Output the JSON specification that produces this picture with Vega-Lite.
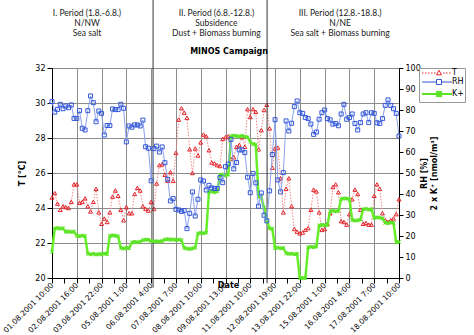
{
"$schema": "https://vega.github.io/schema/vega-lite/v6.json",
"width": 347, "height": 210,
"autosize": {"type": "none"},
"padding": {"left": 52, "top": 68, "right": 75, "bottom": 57},
"background": "white",
"datasets": {
"main": [
{"i":0,"T":24.6,"RH":84.0,"K":12.5},{"i":1,"T":24.85,"RH":79.0,"K":23.6},{"i":2,"T":24.25,"RH":80.3,"K":23.8},{"i":3,"T":23.9,"RH":82.7,"K":23.5},{"i":4,"T":24.1,"RH":80.6,"K":23.7},{"i":5,"T":24.05,"RH":81.9,"K":22.0},{"i":6,"T":24.0,"RH":81.1,"K":22.2},{"i":7,"T":24.35,"RH":82.4,"K":21.9},{"i":8,"T":25.35,"RH":76.0,"K":22.1},{"i":9,"T":25.35,"RH":76.0,"K":20.1},
{"i":10,"T":24.3,"RH":79.7,"K":19.9},{"i":11,"T":24.35,"RH":71.3,"K":20.2},{"i":12,"T":24.55,"RH":70.5,"K":20.0},{"i":13,"T":24.1,"RH":79.7,"K":11.6},{"i":14,"T":23.8,"RH":86.7,"K":11.3},{"i":15,"T":24.35,"RH":83.5,"K":11.5},{"i":16,"T":25.1,"RH":74.4,"K":11.2},{"i":17,"T":23.75,"RH":79.5,"K":11.4},{"i":18,"T":23.1,"RH":78.4,"K":11.3},{"i":19,"T":23.4,"RH":68.1,"K":11.6},
{"i":20,"T":23.2,"RH":72.6,"K":11.4},{"i":21,"T":23.75,"RH":72.6,"K":20.0},{"i":22,"T":24.65,"RH":80.5,"K":20.3},{"i":23,"T":25.0,"RH":80.2,"K":20.1},{"i":24,"T":24.7,"RH":80.2,"K":19.9},{"i":25,"T":23.9,"RH":82.7,"K":14.3},{"i":26,"T":23.3,"RH":80.8,"K":14.0},{"i":27,"T":24.05,"RH":64.8,"K":14.4},{"i":28,"T":23.7,"RH":72.4,"K":14.2},{"i":29,"T":23.7,"RH":71.8,"K":16.9},
{"i":30,"T":24.8,"RH":72.9,"K":17.2},{"i":31,"T":25.15,"RH":72.9,"K":17.0},{"i":32,"T":25.0,"RH":72.4,"K":17.3},{"i":33,"T":24.1,"RH":75.2,"K":18.0},{"i":34,"T":23.95,"RH":62.5,"K":18.3},{"i":35,"T":23.85,"RH":61.8,"K":18.2},{"i":36,"T":24.35,"RH":46.3,"K":17.6},{"i":37,"T":23.95,"RH":61.6,"K":17.4},{"i":38,"T":25.4,"RH":62.8,"K":17.5},{"i":39,"T":26.45,"RH":60.0,"K":17.3},
{"i":40,"T":26.5,"RH":62.4,"K":17.6},{"i":41,"T":25.9,"RH":54.9,"K":18.3},{"i":42,"T":25.55,"RH":47.0,"K":18.5},{"i":43,"T":26.05,"RH":36.7,"K":18.2},{"i":44,"T":25.55,"RH":37.8,"K":18.4},{"i":45,"T":27.15,"RH":32.7,"K":18.1},{"i":46,"T":29.05,"RH":32.4,"K":18.3},{"i":47,"T":29.7,"RH":31.7,"K":18.0},{"i":48,"T":29.45,"RH":32.1,"K":14.3},{"i":49,"T":29.15,"RH":23.5,"K":14.0},
{"i":50,"T":27.35,"RH":30.8,"K":13.8},{"i":51,"T":26.0,"RH":41.0,"K":14.1},{"i":52,"T":27.4,"RH":29.5,"K":14.4},{"i":53,"T":27.0,"RH":37.5,"K":21.2},{"i":54,"T":27.75,"RH":46.7,"K":21.5},{"i":55,"T":28.2,"RH":46.2,"K":21.3},{"i":56,"T":28.1,"RH":41.9,"K":21.6},{"i":57,"T":27.3,"RH":44.1,"K":41.0},{"i":58,"T":26.6,"RH":42.9,"K":41.3},{"i":59,"T":26.55,"RH":42.6,"K":40.8},
{"i":60,"T":26.45,"RH":42.6,"K":41.2},{"i":61,"T":26.4,"RH":47.8,"K":49.0},{"i":62,"T":27.95,"RH":45.4,"K":49.3},{"i":63,"T":28.05,"RH":53.0,"K":48.8},{"i":64,"T":28.1,"RH":54.3,"K":49.2},{"i":65,"T":26.8,"RH":66.0,"K":67.5},{"i":66,"T":26.9,"RH":52.0,"K":67.8},{"i":67,"T":27.5,"RH":55.0,"K":67.6},{"i":68,"T":27.6,"RH":61.0,"K":67.4},{"i":69,"T":28.05,"RH":61.0,"K":67.7},
{"i":70,"T":27.5,"RH":59.7,"K":67.3},{"i":71,"T":29.65,"RH":48.0,"K":67.0},{"i":72,"T":29.2,"RH":40.6,"K":64.8},{"i":73,"T":29.65,"RH":49.8,"K":63.8},{"i":74,"T":29.5,"RH":45.3,"K":63.5},{"i":75,"T":27.35,"RH":34.2,"K":38.8},{"i":76,"T":28.45,"RH":40.5,"K":38.3},{"i":77,"T":29.6,"RH":29.9,"K":33.5},{"i":78,"T":29.9,"RH":27.2,"K":27.5},{"i":79,"T":28.55,"RH":41.5,"K":23.6},
{"i":80,"T":26.3,"RH":58.8,"K":23.4},{"i":81,"T":27.4,"RH":75.4,"K":14.2},{"i":82,"T":27.45,"RH":46.7,"K":14.5},{"i":83,"T":25.7,"RH":41.0,"K":14.1},{"i":84,"T":23.75,"RH":50.2,"K":14.3},{"i":85,"T":25.1,"RH":74.8,"K":11.8},{"i":86,"T":25.7,"RH":70.0,"K":11.5},{"i":87,"T":24.1,"RH":73.7,"K":11.6},{"i":88,"T":22.8,"RH":81.6,"K":11.3},{"i":89,"T":22.65,"RH":84.3,"K":11.5},
{"i":90,"T":22.55,"RH":78.7,"K":0},{"i":91,"T":22.6,"RH":78.4,"K":0},{"i":92,"T":22.75,"RH":76.4,"K":0},{"i":93,"T":22.85,"RH":75.9,"K":14.6},{"i":94,"T":23.9,"RH":73.3,"K":14.9},{"i":95,"T":25.05,"RH":68.4,"K":14.7},{"i":96,"T":24.95,"RH":69.5,"K":15.0},{"i":97,"T":23.75,"RH":75.6,"K":25.0},{"i":98,"T":22.75,"RH":78.7,"K":25.3},{"i":99,"T":22.8,"RH":80.0,"K":25.1},
{"i":100,"T":23.1,"RH":75.9,"K":25.2},{"i":101,"T":23.7,"RH":75.3,"K":31.8},{"i":102,"T":25.2,"RH":73.3,"K":32.0},{"i":103,"T":25.35,"RH":73.6,"K":31.7},{"i":104,"T":24.9,"RH":72.5,"K":31.9},{"i":105,"T":23.25,"RH":78.1,"K":37.6},{"i":106,"T":23.2,"RH":82.7,"K":37.9},{"i":107,"T":23.05,"RH":75.6,"K":37.8},{"i":108,"T":23.65,"RH":76.4,"K":37.5},{"i":109,"T":24.5,"RH":78.1,"K":27.6},
{"i":110,"T":25.05,"RH":73.6,"K":27.3},{"i":111,"T":24.8,"RH":70.5,"K":27.5},{"i":112,"T":23.9,"RH":74.0,"K":27.8},{"i":113,"T":23.1,"RH":78.1,"K":32.7},{"i":114,"T":23.15,"RH":78.7,"K":32.9},{"i":115,"T":23.05,"RH":74.0,"K":32.5},{"i":116,"T":23.05,"RH":78.7,"K":32.8},{"i":117,"T":24.7,"RH":78.4,"K":28.6},{"i":118,"T":25.35,"RH":73.9,"K":28.9},{"i":119,"T":25.1,"RH":73.6,"K":28.7},
{"i":120,"T":23.7,"RH":75.9,"K":28.4},{"i":121,"T":23.3,"RH":82.2,"K":26.3},{"i":122,"T":23.2,"RH":84.8,"K":26.1},{"i":123,"T":23.3,"RH":82.2,"K":26.4},{"i":124,"T":23.4,"RH":80.6,"K":26.2},{"i":125,"T":23.65,"RH":78.4,"K":17.0},{"i":126,"T":24.5,"RH":67.6,"K":17.2}
],
"notes": [
{"i":12.7,"T":35.16,"t":"I. Period (1.8.-6.8.)"},{"i":12.7,"T":34.59,"t":"N/NW"},{"i":12.7,"T":34.02,"t":"Sea salt"},
{"i":59.7,"T":35.16,"t":"II. Period (6.8.-12.8.)"},{"i":59.7,"T":34.59,"t":"Subsidence"},{"i":59.7,"T":34.02,"t":"Dust + Biomass burning"},
{"i":104.6,"T":35.16,"t":"III. Period (12.8.-18.8.)"},{"i":104.6,"T":34.59,"t":"N/NE"},{"i":104.6,"T":34.02,"t":"Sea salt + Biomass burning"}
],
"heading": [{"i":64.3,"T":32.9,"t":"MINOS Campaign"}],
"dividers": [{"i":36.7,"T":36.0,"T2":19.45},{"i":78.1,"T":36.0,"T2":19.7}]
},
"encoding": {
"x": {"field": "i", "type": "quantitative", "scale": {"domain": [0, 126], "nice": false, "zero": false},
"axis": {"values": [0,4.5,9,13.5,18,22.5,27,31.5,36,40.5,45,49.5,54,58.5,63,67.5,72,76.5,81,85.5,90,94.5,99,103.5,108,112.5,117,121.5,126], "tickCount": 200,
"labelExpr": "datum.value % 9 === 0 ? ['01.08.2001 10:00','02.08.2001 16:00','03.08.2001 22:00','05.08.2001 1:00','06.08.2001 4:00','07.08.2001 7:00','08.08.2001 10:00','09.08.2001 13:00','11.08.2001 10:00','12.08.2001 19:00','13.08.2001 22:00','15.08.2001 1:00','16.08.2001 4:00','17.08.2001 7:00','18.08.2001 10:00'][datum.value / 9] : ''",
"labelAngle": -45, "labelAlign": "right", "labelBaseline": "middle", "labelFontSize": 7.5, "labelPadding": 1, "labelOverlap": false, "labelFlush": false, "labelBound": false,
"grid": true, "gridOpacity": {"condition": {"test": "datum.value % 9 === 0", "value": 1}, "value": 0},
"tickSize": 5, "title": "Date", "titleX": 176, "titleY": 9, "titleBaseline": "alphabetic"}}
},
"layer": [
{
"encoding": {
"y": {"field": "T", "type": "quantitative", "scale": {"domain": [20, 32], "nice": false, "zero": false},
"axis": {"orient": "left", "values": [20,22,24,26,28,30,32], "tickCount": 100, "format": ".0f", "labelOverlap": false, "title": "T [°C]", "titlePadding": 8, "grid": true, "tickSize": 5, "labelPadding": 2}}
},
"layer": [
{
"data": {"name": "main"},
"mark": {"type": "line", "color": "#F08484", "strokeWidth": 1, "strokeDash": [1.5, 1.5]}
},
{
"data": {"name": "main"},
"mark": {"type": "point", "shape": "triangle-up", "filled": false, "size": 16, "strokeWidth": 1, "opacity": 1},
"encoding": {
"color": {"datum": "T", "scale": {"domain": ["T", "RH", "K+"], "range": ["#E4262C", "#3457D8", "#5BE326"]},
"legend": {"title": null, "orient": "none", "legendX": 367, "legendY": 0, "padding": 1, "strokeColor": "#9a9a9a", "fillColor": "white", "symbolSize": 100, "labelOffset": 24, "labelFont": "DejaVu Sans", "labelFontSize": 8, "labelColor": "black", "rowPadding": 0, "symbolOpacity": 1,
"symbolType": {"expr": "datum.value === 'T' ? 'M-0.4,0h0.3M0.2,0h0.3M0.8,0h0.3M1.4,0h0.3M2,0h0.3M3.8,0h0.3M4.4,0h0.3M5,0h0.3M3,-0.55L3.5,0.35L2.5,0.35Z' : datum.value === 'RH' ? 'M-0.4,0H2.5M3.5,0H5.6M2.5,-0.5H3.5V0.5H2.5Z' : 'M-0.4,0H5.6M2.45,-0.55L3.55,0.55M2.45,0.55L3.55,-0.55M3,-0.6V0.6'"},
"symbolStrokeWidth": {"expr": "datum.value === 'K+' ? 2 : 1"}}}
}
},
{
"data": {"name": "dividers"},
"mark": {"type": "rule", "color": "#333333", "strokeWidth": 1},
"encoding": {"y2": {"field": "T2"}}
},
{
"data": {"name": "notes"},
"mark": {"type": "text", "font": "Lato", "fontSize": 8.5, "color": "#222222", "baseline": "middle", "align": "center"},
"encoding": {"text": {"field": "t"}}
},
{
"data": {"name": "heading"},
"mark": {"type": "text", "font": "DejaVu Sans", "fontSize": 8, "fontWeight": "bold", "color": "black", "baseline": "middle", "align": "center"},
"encoding": {"text": {"field": "t"}}
}
]
},
{
"layer": [
{
"data": {"name": "main"},
"mark": {"type": "line", "color": "#66EE2A", "strokeWidth": 2.5},
"encoding": {
"y": {"field": "K", "type": "quantitative", "scale": {"domain": [0, 100], "nice": false, "zero": false},
"axis": {"orient": "right", "values": [0,10,20,30,40,50,60,70,80,90,100], "tickCount": 100, "format": ".0f", "labelOverlap": false, "grid": false, "tickSize": 4, "labelPadding": 2, "title": ["RH [%]", "2 x K⁺ [nmol/m³]"], "titleAngle": 270, "titleAlign": "center", "titleBaseline": "middle", "titleX": 25, "titleY": 105, "titleLineHeight": 10.5}}
}
},
{
"data": {"name": "main"},
"mark": {"type": "point", "shape": "M-1,-1L1,1M-1,1L1,-1M0,-1L0,1", "filled": false, "size": 14, "strokeWidth": 1, "opacity": 1},
"encoding": {
"y": {"field": "K", "type": "quantitative", "scale": {"domain": [0, 100], "nice": false, "zero": false},
"axis": {"orient": "right", "values": [0,10,20,30,40,50,60,70,80,90,100], "tickCount": 100, "format": ".0f", "labelOverlap": false, "grid": false, "tickSize": 4, "labelPadding": 2, "title": ["RH [%]", "2 x K⁺ [nmol/m³]"], "titleAngle": 270, "titleAlign": "center", "titleBaseline": "middle", "titleX": 25, "titleY": 105, "titleLineHeight": 10.5}},
"color": {"datum": "K+"}
}
},
{
"data": {"name": "main"},
"mark": {"type": "line", "color": "#8AA2EE", "strokeWidth": 1},
"encoding": {
"y": {"field": "RH", "type": "quantitative", "scale": {"domain": [0, 100], "nice": false, "zero": false},
"axis": {"orient": "right", "values": [0,10,20,30,40,50,60,70,80,90,100], "tickCount": 100, "format": ".0f", "labelOverlap": false, "grid": false, "tickSize": 4, "labelPadding": 2, "title": ["RH [%]", "2 x K⁺ [nmol/m³]"], "titleAngle": 270, "titleAlign": "center", "titleBaseline": "middle", "titleX": 25, "titleY": 105, "titleLineHeight": 10.5}}
}
},
{
"data": {"name": "main"},
"mark": {"type": "point", "shape": "square", "filled": false, "size": 16, "strokeWidth": 1, "opacity": 1},
"encoding": {
"y": {"field": "RH", "type": "quantitative", "scale": {"domain": [0, 100], "nice": false, "zero": false},
"axis": {"orient": "right", "values": [0,10,20,30,40,50,60,70,80,90,100], "tickCount": 100, "format": ".0f", "labelOverlap": false, "grid": false, "tickSize": 4, "labelPadding": 2, "title": ["RH [%]", "2 x K⁺ [nmol/m³]"], "titleAngle": 270, "titleAlign": "center", "titleBaseline": "middle", "titleX": 25, "titleY": 105, "titleLineHeight": 10.5}},
"color": {"datum": "RH"}
}
}
]
}
],
"resolve": {"scale": {"y": "independent"}},
"config": {
"view": {"stroke": "black", "strokeWidth": 1},
"axis": {"labelFont": "DejaVu Sans", "labelFontSize": 8, "labelColor": "black", "labelOverlap": false, "titleFont": "DejaVu Sans", "titleFontSize": 8, "titleFontWeight": "bold", "titleColor": "black", "domainColor": "black", "domainWidth": 1, "tickColor": "black", "gridColor": "#8c8c8c", "gridWidth": 1}
}
}
